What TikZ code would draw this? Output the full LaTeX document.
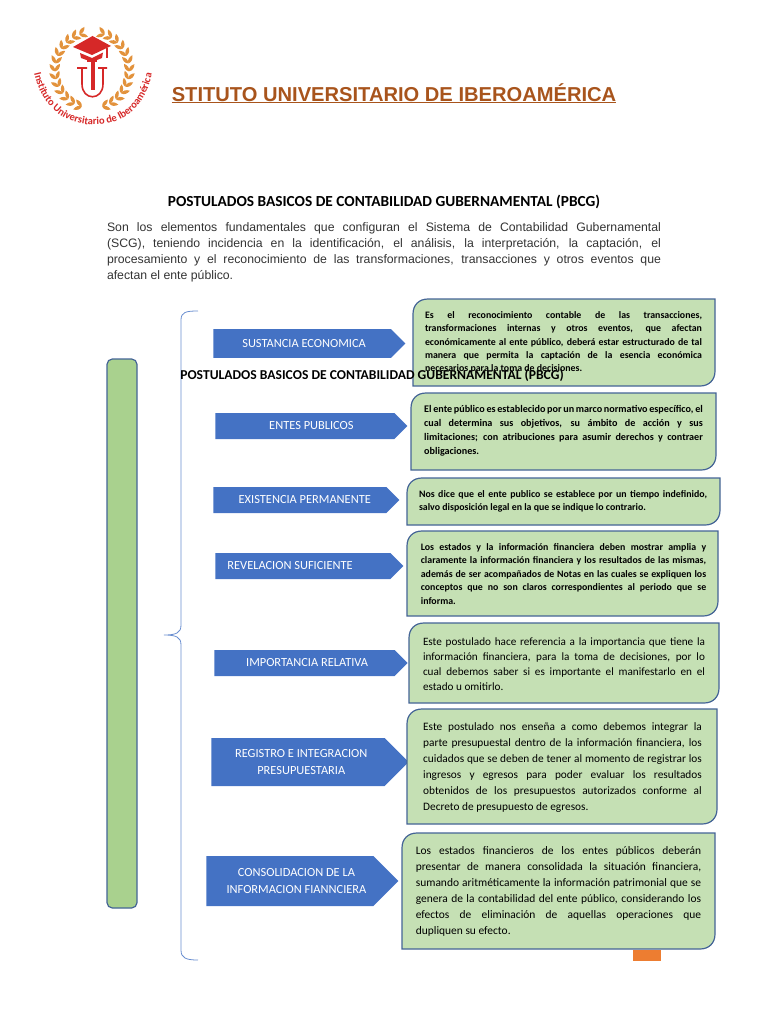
\documentclass[tikz,border=0pt]{standalone}
\usepackage{fontspec}
\setmainfont{Carlito}
\newfontfamily\arialfont{Liberation Sans}
\usepackage{xcolor}
\usetikzlibrary{shapes.symbols,decorations.pathreplacing,decorations.text,calc}
\definecolor{arrowblue}{RGB}{68,114,196}
\definecolor{noteline}{RGB}{68,100,150}
\definecolor{notegreen}{RGB}{197,224,180}
\definecolor{columngreen}{RGB}{169,209,142}
\definecolor{titlebrown}{RGB}{168,84,28}
\definecolor{logored}{RGB}{214,40,40}
\definecolor{logoorange}{RGB}{226,146,60}
\definecolor{tabsorange}{RGB}{237,125,49}
\newcommand{\noteshape}[4]{%
  \draw[notebox] (#1,#4) -- (#1,#2+15) .. controls (#1,#2+6) and (#1+6,#2) .. (#1+15,#2)
    -- (#3,#2) -- (#3,#4-15) .. controls (#3,#4-6) and (#3-6,#4) .. (#3-15,#4) -- cycle;}
\newcommand{\logoleaf}[3]{%
  \fill[logoorange,shift={(#1,#2)},rotate=#3] (0,0) .. controls (2.5,-2.6) and (6,-2.2) .. (9,0) .. controls (6,2.2) and (2.5,2.6) .. (0,0);}
\begin{document}
\begin{tikzpicture}[x=0.75pt,y=-0.75pt,
  notebox/.style={draw=noteline,fill=notegreen,line width=0.9pt},
  notetext/.style 2 args={inner sep=0,align=justify,font=\fontsize{#1}{#2}\selectfont},
  postarrow/.style={signal,signal to=east,signal pointer angle=90,fill=arrowblue,text=white,
    inner sep=0,align=center,anchor=west,font=\fontsize{9.3}{12.7}\selectfont}
]
  \useasboundingbox (0,0) rectangle (768,1024);
  % logo
  \foreach \a in {74,62,...,-80} {
    \pgfmathsetmacro{\lx}{37*cos(\a)}
    \pgfmathsetmacro{\ly}{70+38*sin(\a)}
    \logoleaf{92-\lx}{\ly}{90+\a+35}
    \logoleaf{92-\lx}{\ly}{90+\a-35}
    \logoleaf{92+\lx}{\ly}{90-\a-35}
    \logoleaf{92+\lx}{\ly}{90-\a+35}
  }
  \fill[logored] (92.5,36) -- (111,46) -- (92,55) -- (73,47) -- cycle;
  \fill[logored] (80,53) -- (92,58) -- (103,52.5) -- (102,58) -- (92,62) -- (81,58) -- cycle;
  \draw[logored,line width=1pt] (107,48) -- (107,58);
  \fill[logored] (87,60) rectangle (97,62);
  \fill[logored] (91,62) rectangle (95,90);
  \draw[logored,line width=1.2pt] (77,68) -- (87,68) (82,68) -- (82,84) .. controls (82,101) and (103,101) .. (103,84) -- (103,68) (98,68) -- (107,68);
  \path[postaction={decorate,decoration={text along path,text align=center,
    text={|\fontsize{7.9}{9}\selectfont\bfseries\color{logored}|Instituto Universitario de Iberoamérica}}}]
    (33,68) .. controls (40,108) and (65,125) .. (95,125) .. controls (125,125) and (148,105) .. (153,68);
  % headings
  \node[font=\arialfont\fontsize{15.1}{17}\selectfont\bfseries,text=titlebrown,inner sep=0] (title) at (394,93) {STITUTO UNIVERSITARIO DE IBEROAMÉRICA};
  \draw[titlebrown,line width=0.9pt] (title.south west) -- (title.south east);
  \node[font=\fontsize{11.5}{13}\selectfont\bfseries,inner sep=0] (head) at (384,201.5) {POSTULADOS BASICOS DE CONTABILIDAD GUBERNAMENTAL (PBCG)};
  \node[font=\arialfont\fontsize{9.2}{12}\selectfont,text=black!80,inner sep=0,align=justify,text width=415.5pt] (intro) at (384,252.5) {Son los elementos fundamentales que configuran el Sistema de Contabilidad Gubernamental\linebreak (SCG), teniendo incidencia en la identificación, el análisis, la interpretación, la captación, el\linebreak procesamiento y el reconocimiento de las transformaciones, transacciones y otros eventos que\linebreak afectan el ente público.};
  % left column and brace
  \draw[noteline,fill=columngreen,line width=0.9pt,rounded corners=4pt] (107,359) rectangle (137,908);
  \draw[arrowblue!80,line width=0.6pt] (198,311) .. controls (186,311) and (181,312) .. (181,320) -- (181,625) .. controls (181,633) and (176,635) .. (164,635) .. controls (176,635) and (181,637) .. (181,645) -- (181,950) .. controls (181,958) and (186,960) .. (198,960);
  % arrows
  \node[postarrow,minimum width=144pt,minimum height=21.5pt] (sustancia) at (213,343.5) {\hspace*{3pt}SUSTANCIA ECONOMICA};
  \node[postarrow,minimum width=144pt,minimum height=19.5pt] (entes) at (215,426) {\hspace*{10pt}ENTES PUBLICOS};
  \node[postarrow,minimum width=139.5pt,minimum height=19.5pt] (existencia) at (213,500) {\hspace*{7.5pt}EXISTENCIA PERMANENTE};
  \node[postarrow,minimum width=141pt,minimum height=19.5pt] (revelacion) at (215,566) {\hspace*{-19pt}REVELACION SUFICIENTE};
  \node[postarrow,minimum width=145pt,minimum height=19.5pt] (importancia) at (214,663) {\hspace*{4pt}IMPORTANCIA RELATIVA};
  \node[postarrow,minimum width=148pt,minimum height=36pt] (registro) at (211,762) {\hspace*{5pt}REGISTRO E INTEGRACION\\\hspace*{5pt}PRESUPUESTARIA};
  \node[postarrow,minimum width=144pt,minimum height=37.5pt] (consolidacion) at (206,881) {\hspace*{10pt}CONSOLIDACION DE LA\\\hspace*{10pt}INFORMACION FIANNCIERA};
  % notes
  \noteshape{413}{299}{715}{386}
  \node[notetext={7.4}{9.9},text width=207.75pt,font=\fontsize{7.4}{9.9}\selectfont\bfseries] (sustanciatext) at (563.5,342.5) {Es el reconocimiento contable de las transacciones,\linebreak transformaciones internas y otros eventos, que afectan\linebreak económicamente al ente público, deberá estar estructurado de tal\linebreak manera que permita la captación de la esencia económica\linebreak necesarios para la toma de decisiones.};
  \noteshape{411}{393}{716}{470}
  \node[notetext={7.6}{10.5},text width=209pt,font=\fontsize{7.6}{10.5}\selectfont\bfseries] (entestext) at (563.5,431) {El ente público es establecido por un marco normativo específico, el\linebreak cual determina sus objetivos, su ámbito de acción y sus\linebreak limitaciones; con atribuciones para asumir derechos y contraer\linebreak obligaciones.};
  \noteshape{407}{478}{720}{525}
  \node[notetext={7.4}{9.8},text width=216pt,font=\fontsize{7.4}{9.8}\selectfont\bfseries] (existenciatext) at (563,501.5) {Nos dice que el ente publico se establece por un tiempo indefinido,\linebreak salvo disposición legal en la que se indique lo contrario.};
  \noteshape{407}{531}{718}{616}
  \node[notetext={7.4}{10.1},text width=214pt,font=\fontsize{7.4}{10.1}\selectfont\bfseries] (revelaciontext) at (563.5,574) {Los estados y la información financiera deben mostrar amplia y\linebreak claramente la información financiera y los resultados de las mismas,\linebreak además de ser acompañados de Notas en las cuales se expliquen los\linebreak conceptos que no son claros correspondientes al periodo que se\linebreak informa.};
  \noteshape{409}{623}{719}{703}
  \node[notetext={8.4}{11.3},text width=211.5pt] (importanciatext) at (564,664.5) {Este postulado hace referencia a la importancia que tiene la\linebreak información financiera, para la toma de decisiones, por lo\linebreak cual debemos saber si es importante el manifestarlo en el\linebreak estado u omitirlo.};
  \noteshape{407}{709}{717}{824}
  \node[notetext={8.5}{11.9},text width=209pt] (registrotext) at (562.5,767.5) {Este postulado nos enseña a como debemos integrar la\linebreak parte presupuestal dentro de la información financiera, los\linebreak cuidados que se deben de tener al momento de registrar los\linebreak ingresos y egresos para poder evaluar los resultados\linebreak obtenidos de los presupuestos autorizados conforme al\linebreak Decreto de presupuesto de egresos.};
  \noteshape{402}{833}{715}{949}
  \node[notetext={8.6}{12},text width=214pt] (consolidaciontext) at (558.5,891) {Los estados financieros de los entes públicos deberán\linebreak presentar de manera consolidada la situación financiera,\linebreak sumando aritméticamente la información patrimonial que se\linebreak genera de la contabilidad del ente público, considerando los\linebreak efectos de eliminación de aquellas operaciones que\linebreak dupliquen su efecto.};
  \fill[tabsorange] (633,949.5) rectangle (661,961);
  % text laid over the first note
  \node[font=\fontsize{10.2}{12}\selectfont\bfseries,inner sep=0] (overlap) at (372,375) {POSTULADOS BASICOS DE CONTABILIDAD GUBERNAMENTAL (PBCG)};
\end{tikzpicture}
\end{document}
